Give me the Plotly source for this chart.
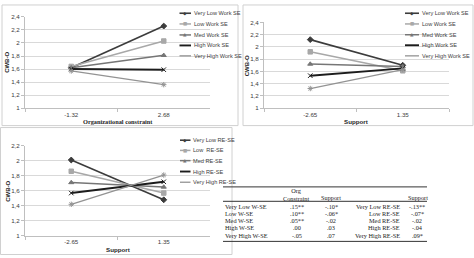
import plotly.graph_objects as go

W, H = 474, 258

# ---------------- data ----------------
oc_categories = ["-1.32", "2.68"]
support_categories = ["-2.65", "1.35"]

work_se_names = ["Very Low Work SE", "Low Work SE", "Med Work SE", "High Work SE", "Very High Work SE"]
re_se_names = ["Very Low RE-SE", "Low  RE-SE", "Med RE-SE", "High RE-SE", "Very High RE-SE"]

# chart 1: CWB-O by organizational constraint
oc_very_low = [1.62, 2.26]
oc_low = [1.64, 2.03]
oc_med = [1.62, 1.81]
oc_high = [1.60, 1.59]
oc_very_high = [1.57, 1.36]

# chart 2: CWB-O by support (work SE)
sup_very_low = [2.12, 1.70]
sup_low = [1.92, 1.61]
sup_med = [1.72, 1.68]
sup_high = [1.53, 1.65]
sup_very_high = [1.32, 1.63]

# chart 3: CWB-O by support (RE-SE)
re_very_low = [2.01, 1.48]
re_low = [1.86, 1.57]
re_med = [1.71, 1.65]
re_high = [1.57, 1.72]
re_very_high = [1.42, 1.81]

y_tickvals_top = [1, 1.2, 1.4, 1.6, 1.8, 2, 2.2, 2.4]
y_ticktext_top = ["1", "1,2", "1,4", "1,6", "1,8", "2", "2,2", "2,4"]
y_tickvals_bottom = [1, 1.2, 1.4, 1.6, 1.8, 2, 2.2]
y_ticktext_bottom = ["1", "1,2", "1,4", "1,6", "1,8", "2", "2,2"]

y_title = "CWB-O"
x_title_oc = "Organizational constraint"
x_title_support = "Support"

# table
table_header_org = "Org<br>Constraint"
table_header_support = "Support"
table_left_labels = ["Very Low W-SE", "Low W-SE", "Med W-SE", "High W-SE", "Very High W-SE"]
table_org_constraint = [".15**", ".10**", ".05**", ".00", "-.05"]
table_support_w = ["-.10*", "-.06*", "-.02", ".03", ".07"]
table_right_labels = ["Very Low RE-SE", "Low RE-SE", "Med RE-SE", "High RE-SE", "Very High RE-SE"]
table_support_re = ["-.13**", "-.07*", "-.02", "-.04", ".09*"]

# ---------------- styles ----------------
colors = ["#3c3c3c", "#a8a8a8", "#767676", "#1c1c1c", "#939393"]
symbols = ["diamond", "square", "triangle-up", "x-thin-open", "asterisk-open"]
legend_glyphs = ["\u25C6", "\u25A0", "\u25B2", "", ""]
line_widths = [1.6, 1.5, 1.5, 1.9, 1.3]
SANS = "Liberation Sans Narrow, Liberation Sans, Arial, sans-serif"
SERIF = "Liberation Serif, Times New Roman, serif"
GRID = "#d9d9d9"
AXIS = "#bfbfbf"
TICKC = "#404040"


def px(x):
    return x / W


def py(y):
    return 1 - y / H


fig = go.Figure()

charts = [
    ("x", "y", oc_categories, [oc_very_low, oc_low, oc_med, oc_high, oc_very_high], work_se_names),
    ("x2", "y2", support_categories, [sup_very_low, sup_low, sup_med, sup_high, sup_very_high], work_se_names),
    ("x3", "y3", support_categories, [re_very_low, re_low, re_med, re_high, re_very_high], re_se_names),
]

for xa, ya, cats, series, names in charts:
    for i, (vals, name) in enumerate(zip(series, names)):
        fig.add_trace(go.Scatter(
            x=cats, y=vals, name=name, xaxis=xa, yaxis=ya,
            mode="lines+markers", showlegend=False,
            line=dict(color=colors[i], width=line_widths[i]),
            marker=dict(symbol=symbols[i], size=4.5, color=colors[i],
                        line=dict(color=colors[i], width=1)),
        ))

# ---------------- axes ----------------
def xaxis_cfg(x0, x1, anchor):
    return dict(
        domain=[px(x0), px(x1)], anchor=anchor, type="category", range=[-0.5, 1.5],
        tickson="boundaries", showgrid=False, showline=True, linecolor=AXIS,
        linewidth=1, ticks="outside", ticklen=3, tickcolor=AXIS,
        tickfont=dict(family=SANS, size=6.2, color=TICKC), fixedrange=True,
    )


def yaxis_cfg(ytop, ybot, anchor, tv, tt):
    return dict(
        domain=[py(ybot), py(ytop)], anchor=anchor, range=[tv[0], tv[-1]],
        tickvals=tv, ticktext=tt, showgrid=True, gridcolor=GRID, gridwidth=1,
        showline=True, linecolor=AXIS, linewidth=1, ticks="outside", ticklen=3,
        tickcolor=AXIS, zeroline=False,
        tickfont=dict(family=SANS, size=6.2, color=TICKC), fixedrange=True,
    )


fig.update_layout(
    width=W, height=H, margin=dict(l=0, r=0, t=0, b=0),
    paper_bgcolor="white", plot_bgcolor="white", showlegend=False,
    xaxis=xaxis_cfg(25, 210, "y"),
    yaxis=yaxis_cfg(13.3, 107, "x", y_tickvals_top, y_ticktext_top),
    xaxis2=xaxis_cfg(264, 449, "y2"),
    yaxis2=yaxis_cfg(19, 107, "x2", y_tickvals_top, y_ticktext_top),
    xaxis3=xaxis_cfg(25, 210, "y3"),
    yaxis3=yaxis_cfg(145.7, 238.3, "x3", y_tickvals_bottom, y_ticktext_bottom),
)

annotations = []
shapes = []

# chart frames
for (x0, y0, x1, y1) in [(2, 1, 238, 125), (243, 1, 473, 125), (0.5, 127, 232, 257.5)]:
    shapes.append(dict(type="rect", xref="paper", yref="paper",
                       x0=px(x0), x1=px(x1), y0=py(y1), y1=py(y0),
                       line=dict(color="#d0d0d0", width=1), layer="below"))


def add_text(text, x, y, size, family=SANS, color="#262626", xanchor="center",
             yanchor="middle", angle=0, bold=False):
    if bold:
        text = "<b>" + text + "</b>"
    annotations.append(dict(text=text, x=px(x), y=py(y), xref="paper", yref="paper",
                            xanchor=xanchor, yanchor=yanchor, showarrow=False,
                            textangle=angle, font=dict(family=family, size=size, color=color)))


# axis titles
add_text(x_title_oc, 117.5, 120.5, 6.3, family=SERIF, bold=True)
add_text(x_title_support, 356, 121, 6.2, bold=True)
add_text(x_title_support, 117.5, 252.5, 6.2, bold=True)
add_text(y_title, 7.5, 60, 6, angle=-90, bold=True)
add_text(y_title, 247, 63, 6, angle=-90, bold=True)
add_text(y_title, 8, 192, 6, angle=-90, bold=True)

# compact Excel-style legends
legend_specs = [
    (179.5, 191, [9.5, 20.5, 31.8, 42.6, 53.3], work_se_names),
    (405, 419, [9.5, 20.5, 31.6, 42.4, 53.3], work_se_names),
    (180, 190.5, [140, 150.5, 161, 172.2, 183.2], re_se_names),
]
for lx0, lx1, rows, names in legend_specs:
    for i, (yy, name) in enumerate(zip(rows, names)):
        shapes.append(dict(type="line", xref="paper", yref="paper",
                           x0=px(lx0), x1=px(lx1), y0=py(yy), y1=py(yy),
                           line=dict(color=colors[i], width=line_widths[i])))
        if legend_glyphs[i]:
            add_text(legend_glyphs[i], (lx0 + lx1) / 2, yy, 4.5, family="DejaVu Sans", color=colors[i])
        add_text(name, lx1 + 0.5, yy, 5.6, color="#404040", xanchor="left")

# table
TX0, TX1 = 223, 427
for yy in [188, 202.8, 244]:
    shapes.append(dict(type="line", xref="paper", yref="paper",
                       x0=px(TX0), x1=px(TX1), y0=py(yy), y1=py(yy),
                       line=dict(color="#333333", width=1)))

add_text(table_header_org, 296, 196.3, 6.3, family=SERIF, color="#222222")
add_text(table_header_support, 331, 199.3, 6.3, family=SERIF, color="#222222")
add_text(table_header_support, 418, 199.3, 6.3, family=SERIF, color="#222222")

row_y = [208.3, 215.4, 222.8, 230.0, 237.6]
for i, yy in enumerate(row_y):
    add_text(table_left_labels[i], TX0, yy, 6.3, family=SERIF, color="#222222", xanchor="left")
    add_text(table_org_constraint[i], 297, yy, 6.3, family=SERIF, color="#222222")
    add_text(table_support_w[i], 331, yy, 6.3, family=SERIF, color="#222222")
    add_text(table_right_labels[i], 401.5, yy, 6.3, family=SERIF, color="#222222", xanchor="right")
    add_text(table_support_re[i], 417, yy, 6.3, family=SERIF, color="#222222")

fig.update_layout(annotations=annotations, shapes=shapes)

fig.write_html("out.html")
